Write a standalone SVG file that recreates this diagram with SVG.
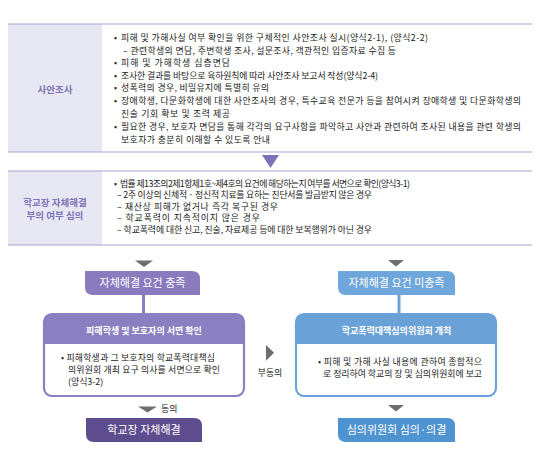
<svg xmlns="http://www.w3.org/2000/svg" width="550" height="453" viewBox="0 0 550 453">
<style>
.t{font-family:"Noto Sans CJK KR","Noto Sans",sans-serif;font-size:8.9px;fill:#222}
.lab{font-family:"Noto Sans CJK KR","Noto Sans",sans-serif;font-size:9.5px;font-weight:bold;fill:#7f74b8;text-anchor:middle}
.hd{font-family:"Noto Sans CJK KR","Noto Sans",sans-serif;font-size:9px;font-weight:bold;fill:#fff;text-anchor:middle}
.pill{font-family:"Noto Sans CJK KR","Noto Sans",sans-serif;font-size:11px;fill:#fff;text-anchor:middle}
.sep{stroke:#a9a3d4;stroke-width:1.2}
.gt{fill:#6e6e6e}
</style>
<rect width="550" height="453" fill="#fff"/>

<g id="section-investigation">
<rect x="8" y="24" width="94" height="128" fill="#e7e7f3"/>
<text class="lab" x="55" y="93">사안조사</text>
<g class="t">
<text x="114" y="41">•</text><text x="121" y="41" textLength="307">피해 및 가해사실 여부 확인을 위한 구체적인 사안조사 실시(양식2-1), (양식2-2)</text>
<text x="123" y="53.5" textLength="273">– 관련학생의 면담, 주변학생 조사, 설문조사, 객관적인 입증자료 수집 등</text>
<text x="114" y="66">•</text><text x="121" y="66" textLength="109">피해 및 가해학생 심층면담</text>
<text x="114" y="78.5">•</text><text x="121" y="78.5" textLength="257">조사한 결과를 바탕으로 육하원칙에 따라 사안조사 보고서 작성(양식2-4)</text>
<text x="114" y="91">•</text><text x="121" y="91" textLength="148">성폭력의 경우, 비밀유지에 특별히 유의</text>
<text x="114" y="104">•</text><text x="121" y="104" textLength="400">장애학생, 다문화학생에 대한 사안조사의 경우, 특수교육 전문가 등을 참여시켜 장애학생 및 다문화학생의</text>
<text x="121" y="116.5" textLength="109">진술 기회 확보 및 조력 제공</text>
<text x="114" y="130">•</text><text x="121" y="130" textLength="400">필요한 경우, 보호자 면담을 통해 각각의 요구사항을 파악하고 사안과 관련하여 조사된 내용을 관련 학생의</text>
<text x="121" y="142.5" textLength="149">보호자가 충분히 이해할 수 있도록 안내</text>
</g>
</g>

<g id="section-review">
<rect x="8" y="171" width="94" height="74" fill="#e7e7f3"/>
<text class="lab" x="55" y="205.5">학교장 자체해결</text>
<text class="lab" x="55" y="218.5">부의 여부 심의</text>
<g class="t">
<text x="114" y="186.5">•</text><text x="120" y="186.5" textLength="290">법률 제13조의2제1항제1호~제4호의 요건에 해당하는지 여부를 서면으로 확인(양식3-1)</text>
<text x="117" y="198" textLength="255">– 2주 이상의 신체적 · 정신적 치료를 요하는 진단서를 발급받지 않은 경우</text>
<text x="117" y="209.5" textLength="161">– 재산상 피해가 없거나 즉각 복구된 경우</text>
<text x="117" y="221" textLength="143">– 학교폭력이 지속적이지 않은 경우</text>
<text x="117" y="232.5" textLength="255">– 학교폭력에 대한 신고, 진술, 자료제공 등에 대한 보복행위가 아닌 경우</text>
</g>
</g>

<g id="connectors">
<line class="sep" x1="8" y1="24" x2="532" y2="24"/>
<line class="sep" x1="8" y1="152" x2="532" y2="152"/>
<line class="sep" x1="8" y1="171" x2="532" y2="171"/>
<line class="sep" x1="8" y1="245" x2="532" y2="245"/>
<polygon points="262,155 279,155 270.5,168" fill="#7b72b8"/>
<polygon class="gt" points="135,260.5 153,260.5 144,267"/>
<polygon class="gt" points="388,260 404,260 396,266.5"/>
<line x1="143.5" y1="294" x2="143.5" y2="315" stroke="#8a7fc0" stroke-width="3"/>
<line x1="399" y1="294" x2="399" y2="315" stroke="#6aa2d8" stroke-width="3"/>
<polygon class="gt" points="138,406.5 157,406.5 147.5,412.5"/>
<text class="t" x="161" y="412">동의</text>
<polygon class="gt" points="266,345 274,352.8 266,360.7"/>
<text class="t" x="270" y="376" text-anchor="middle">부동의</text>
<polygon class="gt" points="388,405 404,405 396,411.5"/>
</g>

<g id="node-met">
<path d="M85,271 H192 Q200,271 200,279 V295 H93 Q85,295 85,287 Z" fill="#8a7bbf"/>
<text class="pill" x="142.5" y="287">자체해결 요건 충족</text>
</g>

<g id="node-notmet">
<path d="M338,271 H447 Q455,271 455,279 V295 H346 Q338,295 338,287 Z" fill="#6fa7dc"/>
<text class="pill" x="396.5" y="287">자체해결 요건 미충족</text>
</g>

<g id="node-consent">
<rect x="44" y="314" width="200" height="82" rx="8" fill="#fff" stroke="#8a7fc0" stroke-width="2.2"/>
<path d="M44,344 V322 Q44,314 52,314 H236 Q244,314 244,322 V344 Z" fill="#8a7fc0"/>
<text class="hd" x="144" y="334">피해학생 및 보호자의 서면 확인</text>
<text class="t" x="61" y="361" textLength="154">• 피해학생과 그 보호자의 학교폭력대책심</text>
<text class="t" x="68" y="373" textLength="152">의위원회 개최 요구 의사를 서면으로 확인</text>
<text class="t" x="68" y="385">(양식3-2)</text>
</g>

<g id="node-committee">
<rect x="296" y="314" width="200" height="82" rx="8" fill="#fff" stroke="#6aa2d8" stroke-width="2.2"/>
<path d="M296,344 V322 Q296,314 304,314 H488 Q496,314 496,322 V344 Z" fill="#6aa2d8"/>
<text class="hd" x="396.5" y="333.5">학교폭력대책심의위원회 개최</text>
<text class="t" x="318" y="365" textLength="164">• 피해 및 가해 사실 내용에 관하여 종합적으</text>
<text class="t" x="323" y="377" textLength="159">로 정리하여 학교의 장 및 심의위원회에 보고</text>
</g>

<g id="node-self-resolve">
<path d="M86,418 H194 Q202,418 202,426 V442 H94 Q86,442 86,434 Z" fill="#5d4d8e"/>
<text class="pill" x="144" y="434">학교장 자체해결</text>
</g>

<g id="node-deliberation">
<path d="M338,418 H447 Q455,418 455,426 V442 H346 Q338,442 338,434 Z" fill="#4f93d1"/>
<text class="pill" x="396.5" y="434">심의위원회 심의·의결</text>
</g>
</svg>
